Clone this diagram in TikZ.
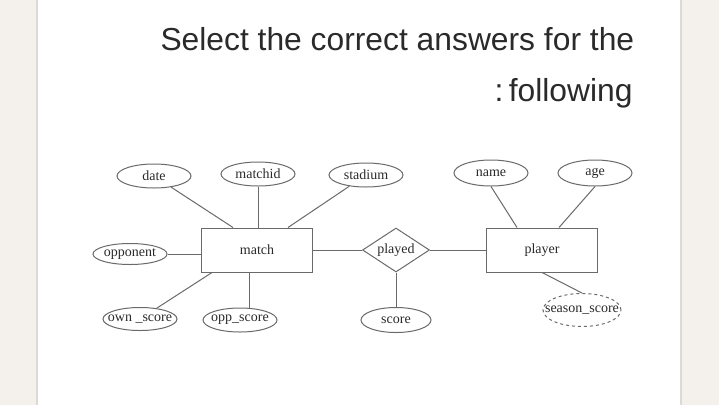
\documentclass[tikz,border=0pt]{standalone}
\usepackage{fontspec}
\setmainfont{Liberation Serif}
\newfontfamily\titlefont{Liberation Sans}
\usepackage{tikz}
\newcommand*{\lbl}[1]{\makebox[0pt]{#1}}
\usetikzlibrary{shapes.geometric}
\definecolor{pagebg}{HTML}{F4F1EC}
\definecolor{rule}{HTML}{DCDAD6}
\definecolor{ink}{HTML}{6A6A6A}
\definecolor{txt}{HTML}{2A2A2A}
\tikzstyle{entity} = [draw=ink, rectangle, minimum width=111pt, minimum height=44pt, inner sep=0pt, font=\fontsize{14}{16}\selectfont, text=txt]
\tikzstyle{attr} = [draw=ink, ellipse, minimum width=74pt, minimum height=24pt, inner sep=0pt, font=\fontsize{14}{16}\selectfont, text=txt]
\tikzstyle{relation} = [draw=ink, diamond, minimum width=67pt, minimum height=44pt, inner sep=0pt, font=\fontsize{14}{16}\selectfont, text=txt]
\tikzstyle{heading} = [font=\titlefont\fontsize{31.8}{36}\selectfont, text=txt, inner sep=0pt]
\tikzstyle{link} = [draw=ink, line width=1pt]

\begin{document}
\begin{tikzpicture}[x=1pt, y=-1pt, line width=1pt]
    % Page.
    \useasboundingbox (0,0) rectangle (719,405);
    \fill [pagebg] (0,0) rectangle (719,405);
    \fill [white] (37,0) rectangle (681,405);
    \draw [rule, line width=1.2pt] (37,0) -- (37,405) (681,0) -- (681,405);

    % Question.
    \node (line1) [heading, anchor=base west] at (160,50) {Select the correct answers for the};
    \node (line2) [heading, anchor=base east] at (633,101) {:\,following};

    % Entities and relationship.
    \node (match) [entity] at (257,250) {\lbl{match}};
    \node (player) [entity] at (542,250) {\lbl{player}};
    \node (played) [relation] at (396,250) {\lbl{played}};

    % Attributes.
    \node (date) [attr] at (154,176) {\lbl{date}};
    \node (matchid) [attr] at (258,174) {\lbl{matchid}};
    \node (stadium) [attr] at (366,175) {\lbl{stadium}};
    \node (opponent) [attr, minimum height=21pt] at (130,254) {\lbl{opponent}};
    \node (ownscore) [attr, minimum height=23pt] at (140,319) {\lbl{own \_score}};
    \node (oppscore) [attr] at (240,320) {\lbl{opp\_score}};
    \node (score) [attr, minimum width=70pt, minimum height=25pt] at (396,320) {\lbl{score}};
    \node (name) [attr, minimum height=26pt] at (491,173) {\lbl{name}};
    \node (age) [attr, minimum height=26pt] at (595,173) {\lbl{age}};
    \node (season) [attr, dashed, minimum width=78pt, minimum height=33pt] at (582,310) {\lbl{season\_score}};

    % Lines.
    \draw [link] (date) -- ([xshift=-24]match.north);
    \draw [link] (matchid) -- (matchid |- match.north);
    \draw [link] (stadium) -- ([xshift=31]match.north);
    \draw [link] (opponent.east) -- (opponent.east -| match.west);
    \draw [link] (ownscore) -- ([xshift=-45]match.south);
    \draw [link] ([xshift=9]oppscore.north) -- ([xshift=-8]match.south);
    \draw [link] (match.east) -- (played.west);
    \draw [link] (played.east) -- (player.west);
    \draw [link] (played.south) -- (score.north);
    \draw [link] (name.south) -- ([xshift=-25]player.north);
    \draw [link] (age.south) -- ([xshift=17]player.north);
    \draw [link] (player.south) -- (season.north);
\end{tikzpicture}
\end{document}
